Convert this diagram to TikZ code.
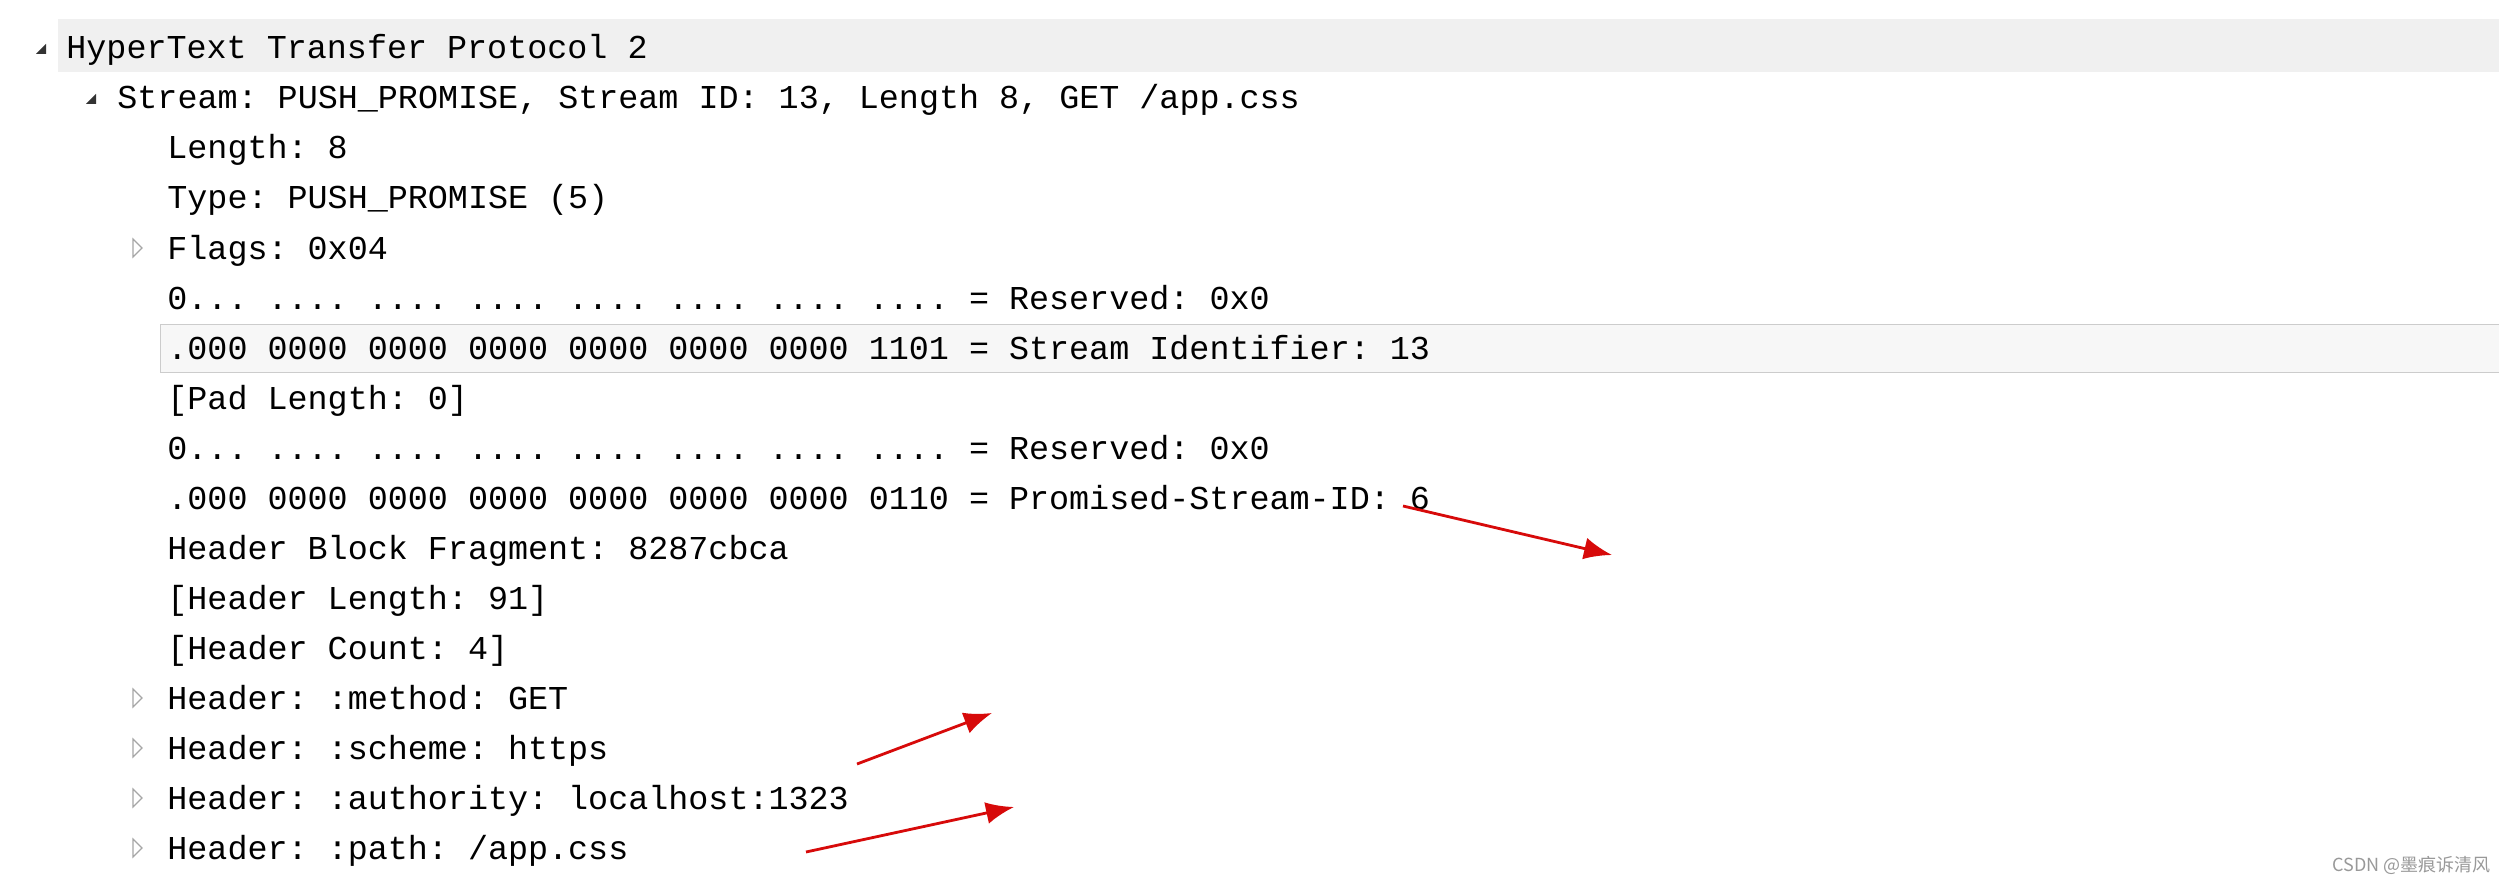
\documentclass[tikz,border=0pt]{standalone}
\usepackage{fontspec}
\usetikzlibrary{arrows.meta}
\setmonofont{Liberation Mono}
\newfontfamily\cjk{Noto Sans CJK SC}
\begin{document}
\begin{tikzpicture}[x=0.5pt,y=-0.5pt,
  row/.style={anchor=base west,font=\ttfamily\fontsize{16.7}{18}\selectfont,inner sep=0pt},
  redarrow/.style={draw={rgb,255:red,215;green,10;blue,10},line width=1.4pt,-{Latex[length=14pt,width=11pt]}},
  open/.style={draw=gray!70,line width=0.6pt,fill=white},
  closed/.style={fill=black!80}]
\useasboundingbox (0,0) rectangle (2499,882);
\fill[white] (0,0) rectangle (2499,882);
\fill[black!6] (58,19) rectangle (2499,72);
\draw[black!20,fill=black!3] (160,324) rectangle (2510,372);
% expand triangles
\fill[closed] (36,54) -- (46,44) -- (46,54) -- cycle;
\fill[closed] (86,104) -- (96,94) -- (96,104) -- cycle;
\foreach \y in {248,698,748,798,848} \draw[open] (133,\y-9) -- (142,\y) -- (133,\y+9) -- cycle;
\node[row] (r1) at (66,59) {HyperText Transfer Protocol 2};
\node[row] (r2) at (117,109) {Stream: PUSH\_PROMISE, Stream ID: 13, Length 8, GET /app.css};
\node[row] (r3) at (167,159) {Length: 8};
\node[row] (r4) at (167,209) {Type: PUSH\_PROMISE (5)};
\node[row] (r5) at (167,259) {Flags: 0x04};
\node[row] (r6) at (167,309) {0... .... .... .... .... .... .... .... = Reserved: 0x0};
\node[row] (r7) at (167,359) {.000 0000 0000 0000 0000 0000 0000 1101 = Stream Identifier: 13};
\node[row] (r8) at (167,409) {[Pad Length: 0]};
\node[row] (r9) at (167,459) {0... .... .... .... .... .... .... .... = Reserved: 0x0};
\node[row] (r10) at (167,509) {.000 0000 0000 0000 0000 0000 0000 0110 = Promised-Stream-ID: 6};
\node[row] (r11) at (167,559) {Header Block Fragment: 8287cbca};
\node[row] (r12) at (167,609) {[Header Length: 91]};
\node[row] (r13) at (167,659) {[Header Count: 4]};
\node[row] (r14) at (167,709) {Header: :method: GET};
\node[row] (r15) at (167,759) {Header: :scheme: https};
\node[row] (r16) at (167,809) {Header: :authority: localhost:1323};
\node[row] (r17) at (167,859) {Header: :path: /app.css};
\coordinate (a1s) at (1403,506); \coordinate (a1e) at (1612,555);
\coordinate (a2s) at (857,764); \coordinate (a2e) at (992,713);
\coordinate (a3s) at (806,852); \coordinate (a3e) at (1014,807);
\draw[redarrow] (a1s) -- (a1e);
\draw[redarrow] (a2s) -- (a2e);
\draw[redarrow] (a3s) -- (a3e);
\node[anchor=east,inner sep=0pt,text=gray!80,font=\cjk\fontsize{9}{10}\selectfont] (wm) at (2491,865) {CSDN @墨痕诉清风};
\end{tikzpicture}
\end{document}
